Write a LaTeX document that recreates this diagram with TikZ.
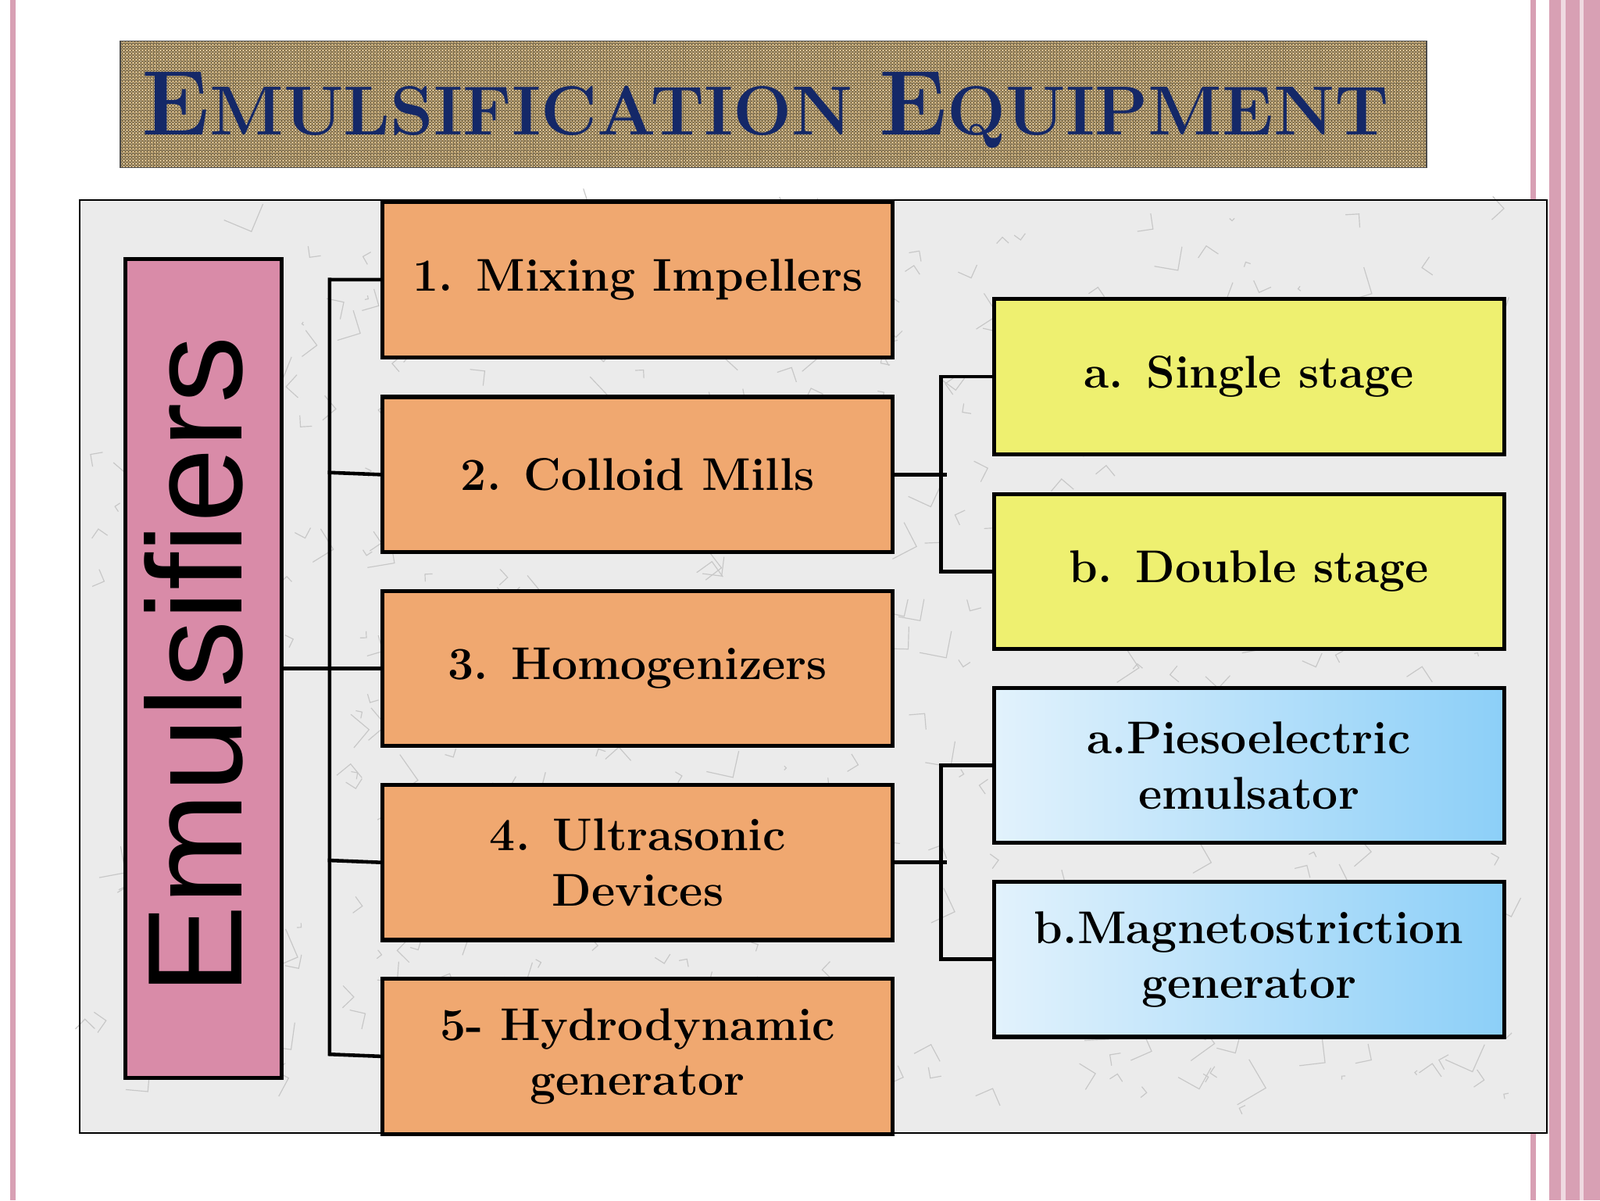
\documentclass[tikz,border=0pt]{standalone}
\usepackage{fontspec}
\newfontfamily\sansf{Liberation Sans}
\usetikzlibrary{patterns}
\definecolor{navy}{HTML}{142868}
\definecolor{burlap}{HTML}{B89C68}
\definecolor{orng}{HTML}{F0A870}
\definecolor{yel}{HTML}{EEF070}
\definecolor{bluA}{HTML}{E2F2FC}
\definecolor{bluB}{HTML}{8CCFF8}
\definecolor{pinkb}{HTML}{D98BA8}
\definecolor{frame}{HTML}{D8A0B4}
\begin{document}
\begin{tikzpicture}[x=1pt,y=-1pt,
  bx/.style={draw=black,line width=4pt,minimum width=500pt,minimum height=152pt,anchor=north west,align=center,font=\fontsize{45}{54}\selectfont\bfseries,inner sep=0pt},
  ob/.style={bx,fill=orng},
  yb/.style={bx,fill=yel},
  bb/.style={bx,left color=bluA,right color=bluB},
  cn/.style={line width=3.5pt,line cap=rect}]
\useasboundingbox (0,0) rectangle (1568,1176);
\fill[white] (0,0) rectangle (1568,1176);
% page frame
\fill[frame] (10,0) rectangle (15,1176);
\fill[frame] (1500,0) rectangle (1505,1176);
\fill[frame] (1518,0) rectangle (1568,1176);
\fill[white!60!frame] (1530,0) rectangle (1534,1176);
\fill[white!60!frame] (1548,0) rectangle (1552,1176);
% title
\fill[burlap] (118,40) rectangle (1398,164);
\fill[pattern=grid,pattern color=burlap!60!black] (118,40) rectangle (1398,164);
\fill[pattern=crosshatch dots,pattern color=white!70!burlap] (118,40) rectangle (1398,164);
\draw[black!70,line width=1pt] (118,40) rectangle (1398,164);
\node[text=navy,font=\bfseries] (title) at (750,108) {\resizebox{1222pt}{!}{\fontsize{90}{90}\selectfont E\fontsize{68}{68}\selectfont MULSIFICATION \fontsize{90}{90}\selectfont E\fontsize{68}{68}\selectfont QUIPMENT}};
% marble panel
\fill[black!8] (78,196) rectangle (1516,1110);
\foreach \i in {1,...,500}{
  \pgfmathsetmacro{\xa}{90+rnd*1400}\pgfmathsetmacro{\ya}{210+rnd*880}
  \pgfmathsetmacro{\dx}{(rnd-0.3)*40}\pgfmathsetmacro{\dy}{(rnd-0.6)*30}
  \draw[black!22,line width=0.9pt] (\xa,\ya) -- ++(\dx,\dy) -- ++(\dy,-\dx);}
\draw[black,line width=1.5pt] (78,196) rectangle (1516,1110);
% left box
\node[draw=black,line width=4pt,fill=pinkb,minimum width=153pt,minimum height=802pt,anchor=north west,inner sep=0pt] (emu) at (121,252) {};
\node[rotate=90] (emut) at (190,652) {\resizebox{645pt}{!}{\sansf Emulsifiers}};
% orange boxes
\node[ob] (o1) at (373,196) {1. Mixing Impellers};
\node[ob] (o2) at (373,387) {2. Colloid Mills};
\node[ob] (o3) at (373,577) {3. Homogenizers};
\node[ob] (o4) at (373,767) {4. Ultrasonic\\Devices};
\node[ob] (o5) at (373,957) {5- Hydrodynamic\\generator};
\node[yb] (y1) at (972,291) {a. Single stage};
\node[yb] (y2) at (972,482) {b. Double stage};
\node[bb] (b1) at (972,672) {a.Piesoelectric\\emulsator};
\node[bb] (b2) at (972,862) {b.Magnetostriction\\generator};
% connectors
\coordinate (t1) at (323,272); \coordinate (t5) at (323,1033);
\draw[cn] (emu.east) -- (o3.west);
\draw[cn] (o1.west) -| (t1) -- (t5) -- (o5.west);
\draw[cn] (323,463) -- (o2.west);
\draw[cn] (323,843) -- (o4.west);
\draw[cn] (o2.east) -- ++(49,0);
\draw[cn] (y1.west) -- ++(-50,0) |- (y2.west);
\draw[cn] (o4.east) -- ++(49,0);
\draw[cn] (b1.west) -- ++(-50,0) |- (b2.west);
\end{tikzpicture}
\end{document}
